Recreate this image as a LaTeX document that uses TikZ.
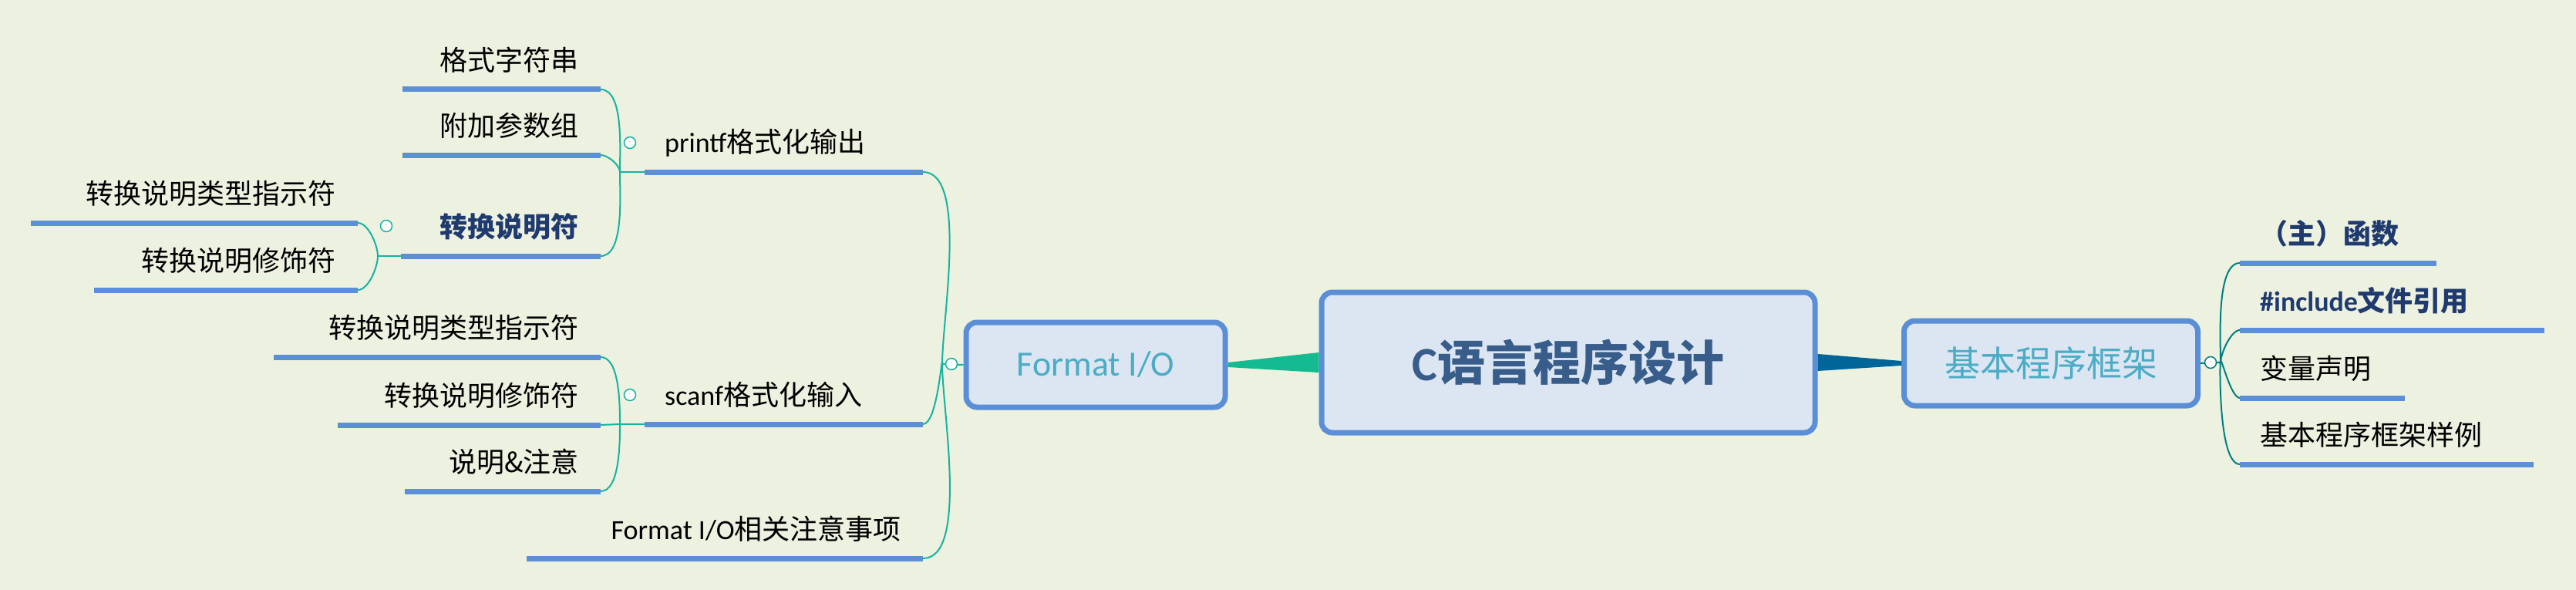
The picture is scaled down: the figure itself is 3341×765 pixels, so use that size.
\documentclass[tikz,border=0pt]{standalone}
\usepackage{fontspec}
\setmainfont{Carlito}
\newfontfamily\cjk{Noto Sans CJK SC}
\definecolor{bg}{HTML}{EDF1E0}
\definecolor{ulc}{HTML}{5B8FD6}
\definecolor{brc}{HTML}{17B3A0}
\definecolor{boxf}{HTML}{DCE6F2}
\definecolor{boxd}{HTML}{5A8ED6}
\definecolor{ttl}{HTML}{4BACC6}
\definecolor{dkb}{HTML}{1F3A6E}
\definecolor{ctr}{HTML}{385D8A}
\tikzset{
 ul/.style={draw=ulc,line width=7pt},
 br/.style={draw=brc,line width=2pt},
 itm/.style={font=\fontsize{36}{40}\selectfont,inner sep=0pt},
 bitm/.style={itm,text=dkb,font=\fontsize{36}{40}\selectfont\bfseries},
 bx/.style={draw=boxd,fill=boxf,line width=7pt,rounded corners=14pt},
 col/.style={circle,draw=brc,fill=white,line width=1.5pt,minimum size=15pt,inner sep=0pt,font=\tiny},
}
\begin{document}
\begin{tikzpicture}[x=1pt,y=-1pt]
\fill[bg] (0,0) rectangle (3341,765);
\useasboundingbox (0,0) rectangle (3341,765);
% left items: name, xstart, xend, y, text, style
\newcommand\litem[6]{\draw[ul] (#2,#4) -- (#3,#4); \coordinate (#1) at (#3,#4); \node[#6,anchor=east] (#1t) at (#3-28,#4-38) {#5};}
\newcommand\ritem[6]{\draw[ul] (#2,#4) -- (#3,#4); \coordinate (#1) at (#2,#4); \node[#6,anchor=west] (#1t) at (#2+26,#4-38) {#5};}
% boxes
\node[bx,minimum width=640pt,minimum height=182pt,text=ctr,font=\fontsize{62}{66}\selectfont\bfseries] (root) at (2034,470) {C\cjk 语言程序设计};
\node[bx,minimum width=336pt,minimum height=110pt,text=ttl,font=\fontsize{46}{50}\selectfont] (fio) at (1421,473) {Format I/O};
\node[bx,minimum width=381pt,minimum height=110pt,text=ttl,font=\fontsize{46}{50}\cjk] (jb) at (2660,471) {基本程序框架};
% tapered connectors
\fill[brc!90!green] ([yshift=-3pt]fio.east) -- ([yshift=-13pt]root.west) -- ([yshift=13pt]root.west) -- ([yshift=3pt]fio.east) -- cycle;
\fill[teal!80!blue] ([yshift=-11pt]root.east) -- ([yshift=-3pt]jb.west) -- ([yshift=3pt]jb.west) -- ([yshift=11pt]root.east) -- cycle;
% left level 1
\ritem{pr}{836}{1197}{223}{printf{\cjk 格式化输出}}{itm}
\ritem{sc}{836}{1197}{550}{scanf{\cjk 格式化输入}}{itm}
\litem{fa}{683}{1197}{724}{Format I/O{\cjk 相关注意事项}}{itm}
\coordinate (J0) at (1222,472);
\draw[br] (J0) -- (fio.west);
\draw[br] ([xshift=-1pt]pr.east) ++(361,0) coordinate (pre) ;
\coordinate (prE) at (1197,223);
\coordinate (scE) at (1197,550);
\draw[br] (prE) to[out=0,in=90,looseness=0.6] (J0);
\draw[br] (scE) to[out=0,in=90,looseness=0.6] (J0);
\draw[br] (fa) to[out=0,in=-90,looseness=0.6] (J0);
\node[col] (c0) at (1234,472) {-};
% printf children
\litem{a1}{522}{779}{116}{\cjk 格式字符串}{itm}
\litem{a2}{522}{779}{201}{\cjk 附加参数组}{itm}
\litem{a3}{520}{779}{332}{\cjk 转换说明符}{bitm}
\coordinate (J1) at (804,223);
\draw[br] (J1) -- (pr);
\draw[br] (a1) to[out=0,in=90,looseness=0.7] (J1);
\draw[br] (a2) to[out=0,in=90,looseness=0.7] (J1);
\draw[br] (a3) to[out=0,in=-90,looseness=0.7] (J1);
\node[col] (c1) at (817,185) {-};
% 转换说明符 children
\coordinate (a3s) at (520,332);
\litem{b1}{40}{464}{289}{\cjk 转换说明类型指示符}{itm}
\litem{b2}{122}{464}{376}{\cjk 转换说明修饰符}{itm}
\coordinate (J2) at (490,332);
\draw[br] (J2) -- (a3s);
\draw[br] (b1) to[out=0,in=90,looseness=0.7] (J2);
\draw[br] (b2) to[out=0,in=-90,looseness=0.7] (J2);
\node[col] (c2) at (501,293) {-};
% scanf children
\litem{d1}{355}{779}{463}{\cjk 转换说明类型指示符}{itm}
\litem{d2}{438}{779}{551}{\cjk 转换说明修饰符}{itm}
\litem{d3}{525}{779}{637}{\cjk 说明\&注意}{itm}
\coordinate (J3) at (804,550);
\draw[br] (J3) -- (sc);
\draw[br] (d1) to[out=0,in=90,looseness=0.7] (J3);
\draw[br] (d2) -- (J3);
\draw[br] (d3) to[out=0,in=-90,looseness=0.7] (J3);
\node[col] (c3) at (817,512) {-};
% right children
\ritem{r1}{2905}{3160}{341}{\cjk （主）函数}{bitm}
\ritem{r2}{2905}{3300}{428}{\#include{\cjk 文件引用}}{bitm}
\ritem{r3}{2905}{3119}{516}{\cjk 变量声明}{itm}
\ritem{r4}{2905}{3286}{602}{\cjk 基本程序框架样例}{itm}
\coordinate (J4) at (2880,470);
\draw[teal,line width=2pt] (jb.east) -- (J4);
\foreach \r in {r1,r2,r3,r4}{\draw[teal,line width=2pt] (J4) to[out=90,in=180,looseness=0.6] (\r);}
\node[col,draw=teal] (c4) at (2867,470) {-};
\end{tikzpicture}
\end{document}
